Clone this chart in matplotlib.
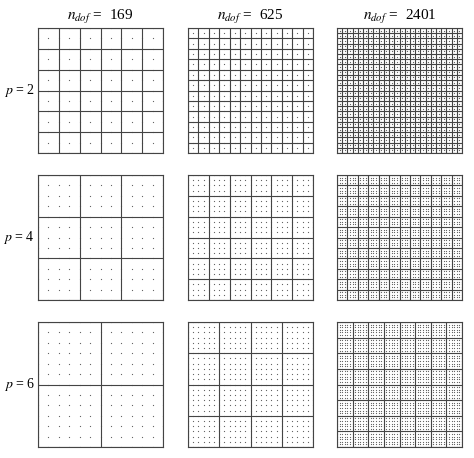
import numpy as np
import matplotlib.pyplot as plt

degrees = [2, 4, 6]
n_dofs = [169, 625, 2401]

plt.rcParams['font.family'] = ['Liberation Serif', 'DejaVu Serif']
plt.rcParams['mathtext.fontset'] = 'stix'

fig = plt.figure(figsize=(4.74, 4.58), dpi=100)
lefts = [38, 188, 337]
tops = [28, 175, 322]
size = 125

for i, p in enumerate(degrees):
    for j, nd in enumerate(n_dofs):
        ax = fig.add_axes([lefts[j] / 474, 1 - (tops[i] + size) / 458, size / 474, size / 458])
        n = int(round(np.sqrt(nd)))
        ne = (n - 1) // p
        nodes = np.linspace(0, 1, n)
        X, Y = np.meshgrid(nodes, nodes)
        ax.plot(X.ravel(), Y.ravel(), 's', ms=0.8, mew=0, color='#666666')
        for e in np.linspace(0, 1, ne + 1):
            ax.axvline(e, color='#444444', lw=0.8)
            ax.axhline(e, color='#444444', lw=0.8)
        ax.set_xlim(0, 1)
        ax.set_ylim(0, 1)
        ax.set_xticks([])
        ax.set_yticks([])
        for s in ax.spines.values():
            s.set_linewidth(0.8)
            s.set_color('#444444')
        if i == 0:
            ax.set_title(r'$n_{dof}$ =  ' + str(nd), fontsize=11, pad=6)
        if j == 0:
            ax.text(-0.025, 0.5, r'$p$ = ' + str(p), transform=ax.transAxes,
                    ha='right', va='center', fontsize=10)

fig.savefig('out.png', dpi=100)
